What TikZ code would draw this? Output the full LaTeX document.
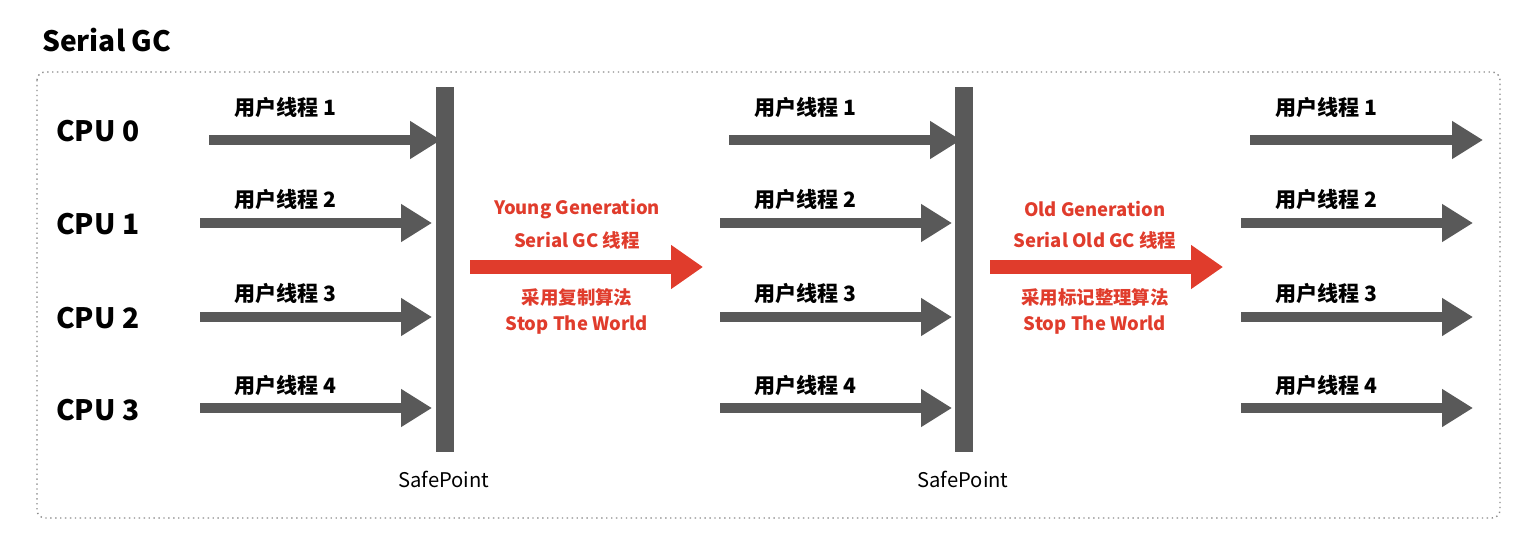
\documentclass[tikz,border=0pt]{standalone}
\usepackage{fontspec}
\setmainfont{Noto Sans CJK SC}
\usetikzlibrary{arrows.meta}
\definecolor{gr}{HTML}{595959}
\definecolor{rd}{HTML}{E03C2C}
\begin{document}
\begin{tikzpicture}[x=0.02cm,y=-0.02cm,
  garrow/.style={draw=gr,line width=0.2cm,-{Triangle[length=0.62cm,width=0.72cm]}},
  rarrow/.style={draw=rd,line width=0.28cm,-{Triangle[length=0.64cm,width=0.84cm]}},
  bar/.style={fill=gr,draw=none},
  cpu/.style={font=\fontsize{16}{18}\selectfont\bfseries,anchor=west},
  thr/.style={font=\fontsize{12}{14}\selectfont\bfseries,anchor=west},
  rtxt/.style={font=\fontsize{10.5}{12}\selectfont\bfseries,text=rd},
  sp/.style={font=\fontsize{11.5}{13}\selectfont}]
\useasboundingbox (0,0) rectangle (1538,552);
\node[font=\fontsize{16}{18}\selectfont\bfseries,anchor=west] (title) at (36,40) {Serial GC};
\draw[gr!70,dotted,line width=0.8pt,rounded corners=0.16cm] (37,72) rectangle (1500,518);
\foreach \i/\y in {0/131,1/224,2/318,3/410}{
  \node[cpu] (cpu\i) at (50,\y) {CPU \i};}
% columns
\foreach \c/\xs/\xe/\lx in {a/200/432/228,b/720/952/748,c/1241/1473/1269}{
  \foreach \i/\y/\ly in {1/223/200,2/317/294,3/408/386}{
    \coordinate (\c s\i) at (\xs,\y); \coordinate (\c e\i) at (\xe,\y);
    \draw[garrow] (\c s\i) -- (\c e\i);
    \pgfmathtruncatemacro{\n}{\i+1}
    \node[thr] (\c l\i) at (\lx,\ly) {用户线程 \n};
  }
}
\foreach \c/\xs/\xe/\lx in {a/209/441/228,b/729/961/748,c/1250/1483/1269}{
  \coordinate (\c s0) at (\xs,140); \coordinate (\c e0) at (\xe,140);
  \draw[garrow] (\c s0) -- (\c e0);
  \node[thr] (\c l0) at (\lx,108) {用户线程 1};
}
% bars
\fill[bar] (436,87) rectangle (454,452);
\fill[bar] (955,87) rectangle (973,452);
\node[sp] (sp1) at (444,479) {SafePoint};
\node[sp] (sp2) at (963,479) {SafePoint};
% red arrows
\coordinate (r1s) at (470,267); \coordinate (r1e) at (703,267);
\draw[rarrow] (r1s) -- (r1e);
\coordinate (r2s) at (990,267); \coordinate (r2e) at (1223,267);
\draw[rarrow] (r2s) -- (r2e);
\node[rtxt] (y1) at (577,209) {Young Generation};
\node[rtxt] (y2) at (577,240) {Serial GC 线程};
\node[rtxt] (y3) at (577,297) {采用复制算法};
\node[rtxt] (y4) at (577,325) {Stop The World};
\node[rtxt] (o1) at (1095,209) {Old Generation};
\node[rtxt] (o2) at (1095,240) {Serial Old GC 线程};
\node[rtxt] (o3) at (1095,297) {采用标记整理算法};
\node[rtxt] (o4) at (1095,325) {Stop The World};
\end{tikzpicture}
\end{document}
